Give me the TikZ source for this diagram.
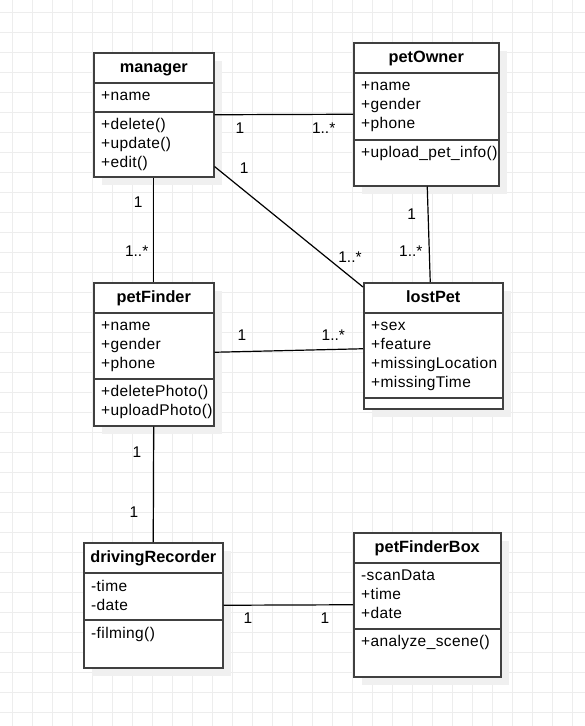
\documentclass[tikz,border=0pt]{standalone}
\usepackage{fontspec}
\setmainfont{Liberation Sans}
\newfontfamily\umlfont[LetterSpace=2.5]{Liberation Sans}
\usetikzlibrary{calc}
\usetikzlibrary{positioning}
\usetikzlibrary{shadows}
\tikzset{
  x=1pt, y=-1pt,
  gridline/.style={black!7, line width=1pt},
  classbox/.style={
    draw=black!75, line width=1.5pt, fill=white,
    anchor=north west, inner sep=0,
    drop shadow={shadow xshift=8pt, shadow yshift=-8pt, fill=black!6, opacity=1}
  },
  divider/.style={draw=black!75, line width=1.5pt},
  classtitle/.style={anchor=base, inner sep=0, font=\fontsize{16.3}{19}\selectfont\bfseries},
  member/.style={anchor=base west, inner sep=0, font=\umlfont\fontsize{15.5}{19}\selectfont},
  mult/.style={inner sep=0, font=\fontsize{15.5}{19}\selectfont},
  assoc/.style={line width=1.2pt, black}
}

\begin{document}
\begin{tikzpicture}

  \fill[white] (0,0) rectangle (585,726);
  \useasboundingbox (0,0) rectangle (585,726);
  \foreach \gx in {12,32,...,572}
    \draw[gridline] (\gx,0) -- (\gx,726);
  \foreach \gy in {12,32,...,712}
    \draw[gridline] (0,\gy) -- (585,\gy);

  % manager
  \node[classbox, minimum width=120, minimum height=124] (manager) at (93,52) {};
  \node[classtitle] (manager-title) at ($(manager.north)+(0,20)$) {manager};
  \draw[divider] ($(manager.north west)+(0,31)$) -- ($(manager.north east)+(0,31)$);
  \draw[divider] ($(manager.north west)+(0,60)$) -- ($(manager.north east)+(0,60)$);
  \foreach \t [count=\i] in {+name}
    \node[member] (manager-attr-\i) at ($(manager.north west)+(8,29.5+19*\i)$) {\t};
  \foreach \t [count=\i] in {+delete(),+update(),+edit()}
    \node[member] (manager-op-\i) at ($(manager.north west)+(8,58.5+19*\i)$) {\t};

  % petOwner
  \node[classbox, minimum width=145, minimum height=143] (petOwner) at (353,42) {};
  \node[classtitle] (petOwner-title) at ($(petOwner.north)+(0,20)$) {petOwner};
  \draw[divider] ($(petOwner.north west)+(0,31)$) -- ($(petOwner.north east)+(0,31)$);
  \draw[divider] ($(petOwner.north west)+(0,98)$) -- ($(petOwner.north east)+(0,98)$);
  \foreach \t [count=\i] in {+name,+gender,+phone}
    \node[member] (petOwner-attr-\i) at ($(petOwner.north west)+(8,29.5+19*\i)$) {\t};
  \foreach \t [count=\i] in {+upload\_pet\_info()}
    \node[member] (petOwner-op-\i) at ($(petOwner.north west)+(8,96.5+19*\i)$) {\t};

  % petFinder
  \node[classbox, minimum width=120, minimum height=143] (petFinder) at (93,282) {};
  \node[classtitle] (petFinder-title) at ($(petFinder.north)+(0,20)$) {petFinder};
  \draw[divider] ($(petFinder.north west)+(0,31)$) -- ($(petFinder.north east)+(0,31)$);
  \draw[divider] ($(petFinder.north west)+(0,97)$) -- ($(petFinder.north east)+(0,97)$);
  \foreach \t [count=\i] in {+name,+gender,+phone}
    \node[member] (petFinder-attr-\i) at ($(petFinder.north west)+(8,29.5+19*\i)$) {\t};
  \foreach \t [count=\i] in {+deletePhoto(),+uploadPhoto()}
    \node[member] (petFinder-op-\i) at ($(petFinder.north west)+(8,95.5+19*\i)$) {\t};

  % lostPet
  \node[classbox, minimum width=139, minimum height=126] (lostPet) at (363,282) {};
  \node[classtitle] (lostPet-title) at ($(lostPet.north)+(0,20)$) {lostPet};
  \draw[divider] ($(lostPet.north west)+(0,31)$) -- ($(lostPet.north east)+(0,31)$);
  \draw[divider] ($(lostPet.north west)+(0,116)$) -- ($(lostPet.north east)+(0,116)$);
  \foreach \t [count=\i] in {+sex,+feature,+missingLocation,+missingTime}
    \node[member] (lostPet-attr-\i) at ($(lostPet.north west)+(8,29.5+19*\i)$) {\t};

  % drivingRecorder
  \node[classbox, minimum width=139, minimum height=125] (drivingRecorder) at (83,542) {};
  \node[classtitle] (drivingRecorder-title) at ($(drivingRecorder.north)+(0,20)$) {drivingRecorder};
  \draw[divider] ($(drivingRecorder.north west)+(0,31)$) -- ($(drivingRecorder.north east)+(0,31)$);
  \draw[divider] ($(drivingRecorder.north west)+(0,78)$) -- ($(drivingRecorder.north east)+(0,78)$);
  \foreach \t [count=\i] in {-time,-date}
    \node[member] (drivingRecorder-attr-\i) at ($(drivingRecorder.north west)+(8,30.5+19*\i)$) {\t};
  \foreach \t [count=\i] in {-filming()}
    \node[member] (drivingRecorder-op-\i) at ($(drivingRecorder.north west)+(8,77.5+19*\i)$) {\t};

  % petFinderBox
  \node[classbox, minimum width=147, minimum height=144] (petFinderBox) at (353,532) {};
  \node[classtitle] (petFinderBox-title) at ($(petFinderBox.north)+(0,20)$) {petFinderBox};
  \draw[divider] ($(petFinderBox.north west)+(0,31)$) -- ($(petFinderBox.north east)+(0,31)$);
  \draw[divider] ($(petFinderBox.north west)+(0,97)$) -- ($(petFinderBox.north east)+(0,97)$);
  \foreach \t [count=\i] in {-scanData,+time,+date}
    \node[member] (petFinderBox-attr-\i) at ($(petFinderBox.north west)+(8,29.5+19*\i)$) {\t};
  \foreach \t [count=\i] in {+analyze\_scene()}
    \node[member] (petFinderBox-op-\i) at ($(petFinderBox.north west)+(8,95.5+19*\i)$) {\t};

  % associations
  \draw[assoc] (manager.east) -- (petOwner.west);
  \draw[assoc] ($(manager.south east)+(0,-11)$) -- ($(lostPet.north west)+(0,5)$);
  \draw[assoc] (manager.south) -- (petFinder.north);
  \draw[assoc] ($(petOwner.south)+(1,0)$) -- ($(lostPet.north)+(-3,0)$);
  \draw[assoc] ($(petFinder.east)+(0,-2)$) -- ($(lostPet.west)+(0,3)$);
  \draw[assoc] (petFinder.south) -- (drivingRecorder.north);
  \draw[assoc] (drivingRecorder.east) -- (petFinderBox.west);

  % multiplicities
  \node[mult] (mo-a) at (240,128) {1};
  \node[mult] (mo-b) at (323.7,128) {1..*};
  \node[mult] (ml-a) at (244.3,168.5) {1};
  \node[mult] (ml-b) at (350,257.5) {1..*};
  \node[mult] (mf-a) at (138.3,202.5) {1};
  \node[mult] (mf-b) at (136.7,251.5) {1..*};
  \node[mult] (ol-a) at (411.7,213.8) {1};
  \node[mult] (ol-b) at (410.8,251) {1..*};
  \node[mult] (fl-a) at (242,335.3) {1};
  \node[mult] (fl-b) at (333.3,335.3) {1..*};
  \node[mult] (fd-a) at (137,452) {1};
  \node[mult] (fd-b) at (134,512) {1};
  \node[mult] (dp-a) at (248,618) {1};
  \node[mult] (dp-b) at (325,618) {1};

\end{tikzpicture}
\end{document}
